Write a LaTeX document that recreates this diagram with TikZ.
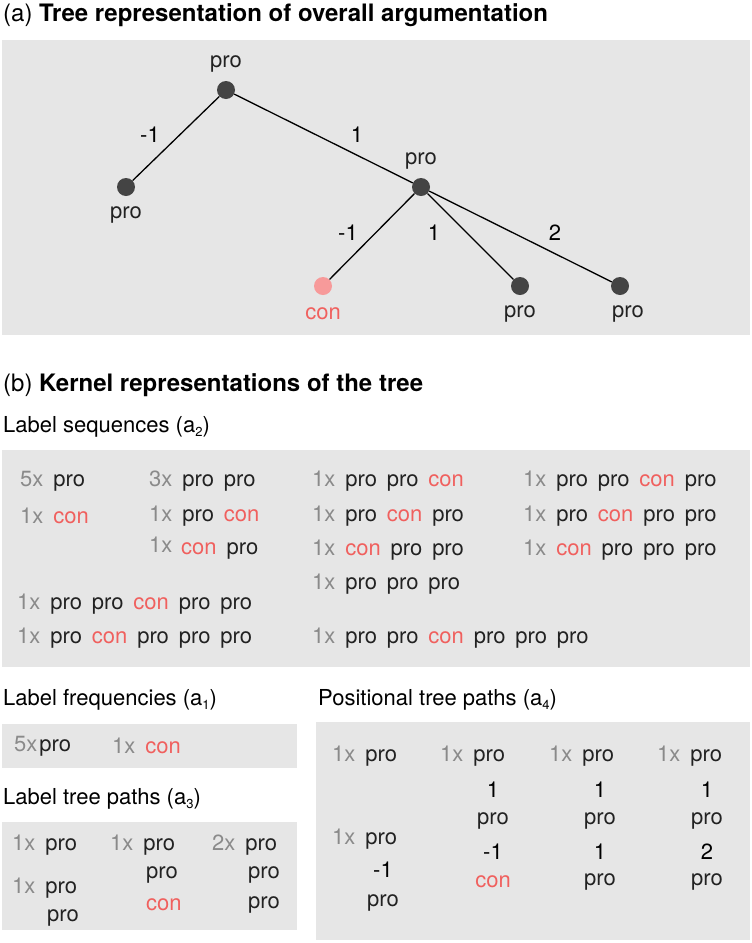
\documentclass[tikz,border=0pt]{standalone}
\usepackage{fontspec}
\setmainfont{TeX Gyre Heros}
\definecolor{bg}{HTML}{E6E6E6}
\definecolor{cnt}{HTML}{8A8A8A}
\definecolor{txt}{HTML}{222222}
\definecolor{conc}{HTML}{F0605E}
\definecolor{cond}{HTML}{F79A9A}
\definecolor{dot}{HTML}{444444}
\newcommand\cn{\textcolor{conc}{con}}
\newcommand\ct[1]{\textcolor{cnt}{#1}}
\newcommand\sbs[1]{\raisebox{-4pt}{\fontsize{13}{15}\selectfont #1}}
\newcommand\myfont{\fontsize{22}{26}\selectfont\spaceskip=0.45em\relax}
\begin{document}
\begin{tikzpicture}[x=1pt,y=-1pt,
  tx/.style={inner sep=0pt,text=txt,font=\myfont},
  tw/.style={tx,anchor=west},
  hd/.style={inner sep=0pt,anchor=west,font=\fontsize{22}{26}\selectfont},
  ti/.style={inner sep=0pt,anchor=west,font=\fontsize{24}{28}\selectfont},
  dt/.style={circle,fill=dot,minimum size=18pt,inner sep=0pt}]
\useasboundingbox (0,0) rectangle (752,943);
% (a)
\node[ti] (ta) at (3,15) {(a) \textbf{Tree representation of overall argumentation}};
\fill[bg] (2,40) rectangle (750,335);
\node[dt] (r) at (226,90) {};
\node[dt] (l) at (126,187) {};
\node[dt] (m) at (421,187) {};
\node[dt,fill=cond] (c1) at (323,286) {};
\node[dt] (c2) at (520,286) {};
\node[dt] (c3) at (620,286) {};
\draw[line width=1.3pt] (r)--(l) (r)--(m) (m)--(c1) (m)--(c2) (m)--(c3);
\node[tx] (lr) at (226,64) {pro};
\node[tx] (ll) at (126,215) {pro};
\node[tx] (lm) at (421,161) {pro};
\node[tx,text=conc] (lc1) at (323,314) {con};
\node[tx] (lc2) at (520,314) {pro};
\node[tx] (lc3) at (628,314) {pro};
\node[tx,text=black] (e1) at (150,135) {-1};
\node[tx,text=black] (e2) at (357,135) {1};
\node[tx,text=black] (e3) at (348,233) {-1};
\node[tx,text=black] (e4) at (434,233) {1};
\node[tx,text=black] (e5) at (555,233) {2};
% (b)
\node[ti] (tb) at (3,385) {(b) \textbf{Kernel representations of the tree}};
\node[hd] (h2) at (3,427) {Label sequences (a\sbs{2})};
\fill[bg] (2,450) rectangle (750,667);
\node[tw] (s11) at (20,481) {\ct{5x} pro};
\node[tw] (s12) at (149,481) {\ct{3x} pro pro};
\node[tw] (s13) at (312,481) {\ct{1x} pro pro \cn};
\node[tw] (s14) at (523,481) {\ct{1x} pro pro \cn{} pro};
\node[tw] (s21) at (20,516) {\ct{1x} \cn};
\node[tw] (s22) at (149,516) {\ct{1x} pro \cn};
\node[tw] (s23) at (312,516) {\ct{1x} pro \cn{} pro};
\node[tw] (s24) at (523,516) {\ct{1x} pro \cn{} pro pro};
\node[tw] (s32a) at (149,545) {\ct{1x}};
\node[tw] (s32) at (181,551) {\cn{} pro};
\node[tw] (s33) at (312,550) {\ct{1x} \cn{} pro pro};
\node[tw] (s34) at (523,550) {\ct{1x} \cn{} pro pro pro};
\node[tw] (s43) at (312,584) {\ct{1x} pro pro pro};
\node[tw] (s51) at (17,604) {\ct{1x} pro pro \cn{} pro pro};
\node[tw] (s61) at (17,638) {\ct{1x} pro \cn{} pro pro pro};
\node[tw] (s63) at (312,638) {\ct{1x} pro pro \cn{} pro pro pro};
% a1
\node[hd] (h1) at (3,700) {Label frequencies (a\sbs{1})};
\fill[bg] (2,724) rectangle (297,768);
\node[tw] (f1) at (14,746) {\ct{5x}\hspace{2pt}pro};
\node[tw] (f2) at (112,746) {\ct{1x} \cn};
% a3
\node[hd] (h3) at (3,799) {Label tree paths (a\sbs{3})};
\fill[bg] (2,822) rectangle (297,930);
\node[tw] (p1) at (12,845) {\ct{1x} pro};
\node[tw] (p2) at (12,888) {\ct{1x} pro};
\node[tw] (p2b) at (47,918) {pro};
\node[tw] (p3) at (110,845) {\ct{1x} pro};
\node[tw] (p3b) at (146,875) {pro};
\node[tw] (p3c) at (146,905) {\cn};
\node[tw] (p4) at (212,845) {\ct{2x} pro};
\node[tw] (p4b) at (248,875) {pro};
\node[tw] (p4c) at (248,905) {pro};
% a4
\node[hd] (h4) at (318,700) {Positional tree paths (a\sbs{4})};
\fill[bg] (316,722) rectangle (750,940);
\node[tw] (q1) at (332,756) {\ct{1x} pro};
\node[tw] (q2) at (332,839) {\ct{1x} pro};
\node[tx,text=black] (q2a) at (383,870) {-1};
\node[tx] (q2b) at (383,903) {pro};
\node[tw] (q3) at (440,756) {\ct{1x} pro};
\node[tx,text=black] (q3a) at (493,790) {1};
\node[tx] (q3b) at (493,821) {pro};
\node[tx,text=black] (q3c) at (493,852) {-1};
\node[tx] (q3d) at (493,882) {\cn};
\node[tw] (q4) at (549,756) {\ct{1x} pro};
\node[tx,text=black] (q4a) at (600,790) {1};
\node[tx] (q4b) at (600,821) {pro};
\node[tx,text=black] (q4c) at (600,852) {1};
\node[tx] (q4d) at (600,882) {pro};
\node[tw] (q5) at (657,756) {\ct{1x} pro};
\node[tx,text=black] (q5a) at (707,790) {1};
\node[tx] (q5b) at (707,821) {pro};
\node[tx,text=black] (q5c) at (707,852) {2};
\node[tx] (q5d) at (707,882) {pro};
\end{tikzpicture}
\end{document}
